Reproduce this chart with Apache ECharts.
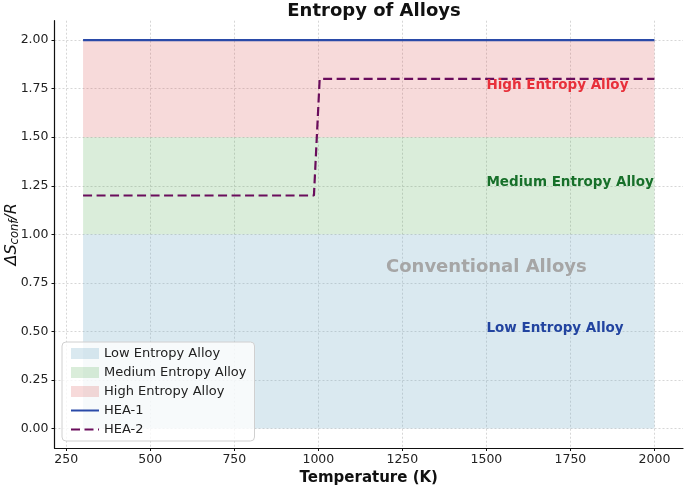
<!DOCTYPE html>
<html>
    <head>
        <meta charset=utf-8>
        <style>
            html, body { margin: 0; padding: 0; background: #fff; }
        </style>
    </head>
    <body>
        <div id="chart" style="width:685px;height:486px"></div>
        <script src="https://cdn.jsdelivr.net/npm/echarts@6/dist/echarts.min.js"></script>
        <script type="text/javascript">

            var myChart = echarts.init(document.querySelector('#chart'));

            // temperature span of the bands
            let tempRange = [300, 2000]
            let bandNames = ['Low Entropy Alloy', 'Medium Entropy Alloy', 'High Entropy Alloy']
            let bandEdges = [0, 1.0, 1.5, 2.0]
            let bandColors = ['rgba(120,175,200,0.27)', 'rgba(60,160,60,0.19)', 'rgba(215,80,80,0.21)']

            let hea1 = [[300, 2.0], [2000, 2.0]]
            let hea2 = [[300, 1.2], [986.9, 1.2], [1004.0, 1.8], [2000, 1.8]]

            let xTicks = [250, 500, 750, 1000, 1250, 1500, 1750, 2000]
            let yTicks = [0, 0.25, 0.5, 0.75, 1.0, 1.25, 1.5, 1.75, 2.0]

            // text annotations: [x, y, text]
            let notes = [
                [1500, 1.75, 'High Entropy Alloy'],
                [1500, 1.25, 'Medium Entropy Alloy'],
                [1500, 0.5, 'Low Entropy Alloy']
            ]
            let noteColors = ['#e8303a', '#17702a', '#2244a0']
            let convNote = [1500, 0.83, 'Conventional Alloys']

            let fontFam = '"DejaVu Sans", sans-serif'

            let bandSeries = bandNames.map(function(name, i) {
                return {
                    name: name,
                    type: 'line',
                    symbol: 'none',
                    data: [],
                    itemStyle: {color: bandColors[i]},
                    lineStyle: {opacity: 0},
                    silent: true,
                    markArea: {
                        silent: true,
                        itemStyle: {color: bandColors[i]},
                        data: [[
                            {coord: [tempRange[0], bandEdges[i]]},
                            {coord: [tempRange[1], bandEdges[i + 1]]}
                        ]]
                    }
                }
            })

            let option = {
            animation: false,
            title: {
                text: 'Entropy of Alloys',
                left: 369,
                textAlign: 'center',
                top: -3,
                textStyle: {fontFamily: fontFam, fontSize: 18, fontWeight: 'bold', color: '#111'}
            },
            legend: {
                orient: 'vertical',
                left: 62,
                top: 342,
                itemWidth: 28,
                itemHeight: 11,
                itemGap: 6,
                padding: [5, 8, 5, 8],
                backgroundColor: 'rgba(255,255,255,0.8)',
                borderColor: '#d0d0d0',
                borderWidth: 1,
                borderRadius: 4,
                selectedMode: false,
                textStyle: {fontFamily: fontFam, fontSize: 13, color: '#222'},
                data: [
                    {name: bandNames[0], icon: 'rect', itemStyle: {color: bandColors[0]}},
                    {name: bandNames[1], icon: 'rect', itemStyle: {color: bandColors[1]}},
                    {name: bandNames[2], icon: 'rect', itemStyle: {color: bandColors[2]}},
                    {name: 'HEA-1', itemStyle: {opacity: 0}},
                    {name: 'HEA-2', itemStyle: {opacity: 0}}
                ]
            },
            grid: {
                left: 54.5,
                right: 2,
                top: 20.7,
                bottom: 38,
                containLabel: false,
                outerBoundsMode: 'none'
            },
            xAxis: {
                type: 'value',
                min: 215,
                max: 2085,
                name: 'Temperature (K)',
                nameLocation: 'middle',
                nameGap: 22,
                nameTextStyle: {fontFamily: fontFam, fontSize: 15, fontWeight: 'bold', color: '#111'},
                axisLine: {show: true, onZero: false, lineStyle: {color: '#111', width: 1.2}},
                axisTick: {show: true, length: 3, customValues: xTicks, lineStyle: {color: '#111'}},
                axisLabel: {
                    customValues: xTicks, fontFamily: fontFam, fontSize: 12.5, color: '#222', margin: 5,
                    formatter: function(v) { return String(v) }
                },
                splitLine: {show: true, lineStyle: {color: '#cccccc', type: [2, 2], width: 0.8}}
            },
            yAxis: {
                type: 'value',
                min: -0.1,
                max: 2.1,
                name: '{a|ΔS}{b|conf}{a|/R}',
                nameLocation: 'middle',
                nameGap: 33,
                nameRotate: 90,
                nameMoveOverlap: false,
                nameTextStyle: {
                    rich: {
                        a: {fontFamily: fontFam, fontSize: 16, fontStyle: 'italic', color: '#111'},
                        b: {fontFamily: fontFam, fontSize: 11.5, fontStyle: 'italic', color: '#111', padding: [7, 0, 0, 0]}
                    }
                },
                axisLine: {show: true, onZero: false, lineStyle: {color: '#111', width: 1.2}},
                axisTick: {show: true, length: 3, customValues: yTicks, lineStyle: {color: '#111'}},
                axisLabel: {
                    customValues: yTicks,
                    fontFamily: fontFam, fontSize: 12.5, color: '#222', margin: 6,
                    formatter: function(v) { return v.toFixed(2) }
                },
                splitLine: {show: true, lineStyle: {color: '#cccccc', type: [2, 2], width: 0.8}}
            },
            series: bandSeries.concat([
                {
                    name: 'HEA-1',
                    type: 'line',
                    symbol: 'none',
                    data: hea1,
                    z: 5,
                    itemStyle: {color: '#2a4aa8'},
                    lineStyle: {color: '#2a4aa8', width: 2.2}
                },
                {
                    name: 'HEA-2',
                    type: 'line',
                    symbol: 'none',
                    data: hea2,
                    z: 5,
                    itemStyle: {color: '#6a0d5c'},
                    lineStyle: {color: '#6a0d5c', width: 2.2, type: [9, 4.5]}
                },
                {
                    name: 'notes',
                    type: 'scatter',
                    symbolSize: 0,
                    silent: true,
                    z: 6,
                    itemStyle: {opacity: 1},
                    data: notes.map(function(n, i) {
                        return {
                            value: [n[0], n[1]],
                            label: {
                                show: true,
                                position: [0, 4],
                                align: 'left',
                                verticalAlign: 'bottom',
                                formatter: n[2],
                                fontFamily: fontFam,
                                fontSize: 13.5,
                                fontWeight: 'bold',
                                color: noteColors[i],
                                opacity: 1,
                                textBorderWidth: 0
                            }
                        }
                    })
                },
                {
                    name: 'conv',
                    type: 'scatter',
                    symbolSize: 0,
                    silent: true,
                    z: 6,
                    itemStyle: {opacity: 1},
                    data: [{
                        value: [convNote[0], convNote[1]],
                        label: {
                            show: true,
                            position: [0, 0],
                            align: 'center',
                            verticalAlign: 'middle',
                            formatter: convNote[2],
                            fontFamily: fontFam,
                            fontSize: 18,
                            fontWeight: 'bold',
                            color: '#a6a6a6',
                            opacity: 1,
                            textBorderWidth: 0
                        }
                    }]
                }
            ])
            }
            myChart.setOption(option);
        </script>
    </body>
</html>
